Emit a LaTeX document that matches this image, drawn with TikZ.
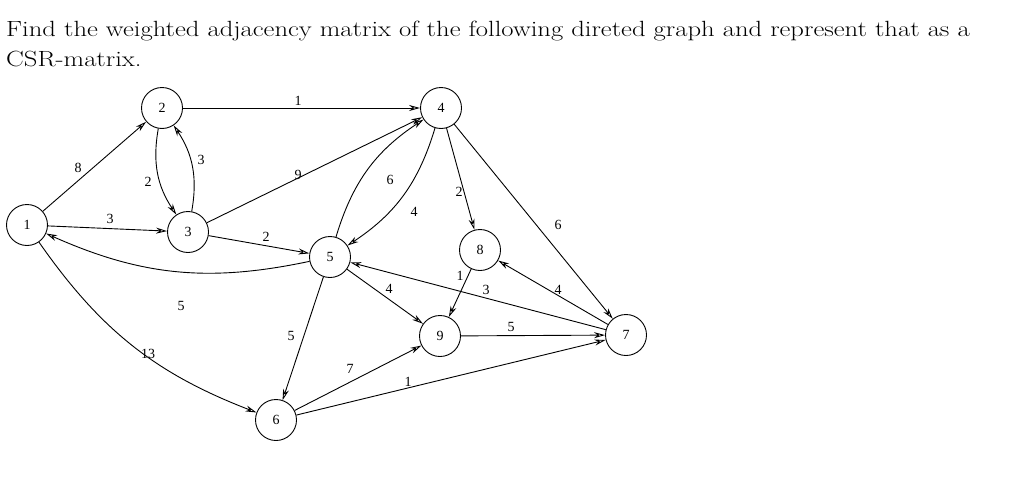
\documentclass[tikz,border=0pt]{standalone}
\usepackage{fontspec}
\newfontfamily\lbl{Liberation Serif}
\usetikzlibrary{arrows.meta}
\begin{document}
\begin{tikzpicture}[x=1pt,y=-1pt,
  vtx/.style={circle,draw,line width=0.9pt,minimum size=41pt,inner sep=0pt,font=\lbl\fontsize{14}{14}\selectfont},
  wt/.style={font=\lbl\fontsize{14}{14}\selectfont,inner sep=1pt},
  arc/.style={line width=0.9pt,-{Stealth[length=11pt,width=6pt,open]}}]
\useasboundingbox (0,0) rectangle (1024,479);
\node[anchor=north west,align=left,inner sep=0pt,font=\fontsize{22}{30}\selectfont] (title) at (6,21)
 {\scalebox{1.21}[1]{Find the weighted adjacency matrix of the following direted graph and represent that as a}\\\scalebox{1.21}[1]{CSR-matrix.}};
\node[vtx] (n1) at (27,225) {1};
\node[vtx] (n2) at (162,108) {2};
\node[vtx] (n3) at (188,232) {3};
\node[vtx] (n4) at (441,108) {4};
\node[vtx] (n5) at (330,257) {5};
\node[vtx] (n6) at (276,420) {6};
\node[vtx] (n7) at (626,335) {7};
\node[vtx] (n8) at (480,250) {8};
\node[vtx] (n9) at (440,336) {9};
\draw[arc] (n1) -- (n2);
\draw[arc] (n1) -- (n3);
\draw[arc] (n2) -- (n4);
\draw[arc] (n2) to[bend right=22] (n3);
\draw[arc] (n3) to[bend right=22] (n2);
\draw[arc] (n3) -- (n4);
\draw[arc] (n3) -- (n5);
\draw[arc] (n5) to[bend left=18] (n1);
\draw[arc] (n1) to[bend right=17] (n6);
\draw[arc] (n5) to[bend left=20] (n4);
\draw[arc] (n4) to[bend left=20] (n5);
\draw[arc] (n4) -- (n8);
\draw[arc] (n4) -- (n7);
\draw[arc] (n5) -- (n9);
\draw[arc] (n5) -- (n6);
\draw[arc] (n8) -- (n9);
\draw[arc] (n7) -- (n5);
\draw[arc] (n7) -- (n8);
\draw[arc] (n9) -- (n7);
\draw[arc] (n6) -- (n9);
\draw[arc] (n6) -- (n7);
\node[wt] (w12) at (78,168) {8};
\node[wt] (w13) at (110,219) {3};
\node[wt] (w24) at (298,101) {1};
\node[wt] (w23) at (148,182) {2};
\node[wt] (w32) at (201,160) {3};
\node[wt] (w34) at (298,175) {9};
\node[wt] (w35) at (266,237) {2};
\node[wt] (w51) at (181,306) {5};
\node[wt] (w16) at (148,354) {13};
\node[wt] (w54) at (390,180) {6};
\node[wt] (w45) at (414,212) {4};
\node[wt] (w48) at (459,192) {2};
\node[wt] (w47) at (558,225) {6};
\node[wt] (w89) at (460,276) {1};
\node[wt] (w75) at (486,290) {3};
\node[wt] (w59) at (389,289) {4};
\node[wt] (w78) at (558,290) {4};
\node[wt] (w56) at (291,336) {5};
\node[wt] (w97) at (511,327) {5};
\node[wt] (w69) at (350,369) {7};
\node[wt] (w67) at (408,382) {1};
\end{tikzpicture}
\end{document}
